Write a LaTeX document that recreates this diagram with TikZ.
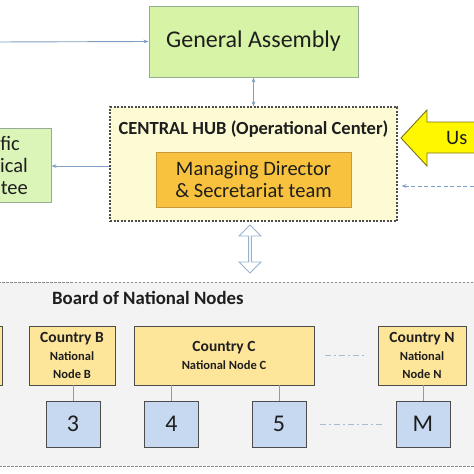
\documentclass[tikz,border=0pt]{standalone}
\usepackage{fontspec}
\setmainfont{Carlito}
\usetikzlibrary{shapes.arrows,calc,arrows.meta}

\definecolor{gaGreen}{HTML}{D7F3A6}
\definecolor{gaBorder}{HTML}{93AE93}
\definecolor{sciGreen}{HTML}{DBF4B8}
\definecolor{hubYellow}{HTML}{FDFBD4}
\definecolor{mdOrange}{HTML}{F8C23E}
\definecolor{mdBorder}{HTML}{C49A3A}
\definecolor{countryYellow}{HTML}{FDE59A}
\definecolor{numBlue}{HTML}{C6D9F0}
\definecolor{boardGray}{HTML}{F3F3F3}
\definecolor{linkBlue}{HTML}{7E9FC2}
\definecolor{usersYellow}{HTML}{FFF700}
\definecolor{textDark}{HTML}{1E1E1E}

\begin{document}
\begin{tikzpicture}[x=1pt,y=-1pt,
	box/.style={rectangle,inner sep=0pt,align=center,text=textDark},
	link/.style={draw=linkBlue,line width=0.9pt},
	country/.style={box,draw=black!70,fill=countryYellow,line width=0.9pt,minimum height=59pt,font=\bfseries\fontsize{15.5}{18}\selectfont},
	numbox/.style={box,draw=black!70,fill=numBlue,line width=0.9pt,minimum width=54pt,minimum height=46pt,font=\fontsize{24}{26}\selectfont}]
		\useasboundingbox (0,0) rectangle (474,474);
		% upper part
		\node[box,draw=gaBorder,fill=gaGreen,line width=1pt,minimum width=209pt,minimum height=71pt,font=\fontsize{24}{26}\selectfont] (ga) at (253.5,41.5) {General Assembly};
		\node[box,draw=black!70,fill=hubYellow,dash pattern=on 2pt off 1.5pt,line width=1.1pt,minimum width=287pt,minimum height=114pt] (hub) at (253.5,164) {};
		\node[box,font=\bfseries\fontsize{18.5}{20}\selectfont] (hubTitle) at (253.5,129) {CENTRAL HUB (Operational Center)};
		\node[box,draw=mdBorder,fill=mdOrange,line width=1pt,minimum width=195pt,minimum height=55pt,font=\fontsize{20.5}{22}\selectfont] (md) at (253.5,179.5) {Managing Director\\\& Secretariat team};
		\node[box,draw=gaBorder,fill=sciGreen,line width=1pt,minimum width=120pt,minimum height=74pt] (sci) at (-9,165) {};
		\node[box,align=right,anchor=east,font=\fontsize{20.5}{22}\selectfont] (sciText) at (28,165) {fic\kern8pt\\ical\\tee};
		\coordinate (gaIn) at (-5,42);
		\draw[link,-{Stealth[length=5pt]}] (gaIn) -- (ga.west);
		\draw[link,{Stealth[length=5pt]}-{Stealth[length=5pt]}] (ga.south) -- (hub.north);
		\draw[link,-{Stealth[length=5pt]}] (hub.west |- 0,166) -- (sci.east |- 0,166);
		% users arrow
		\draw[draw=olive!80!black,fill=usersYellow,line width=0.9pt] (401,138) -- (427,110) -- (427,122) -- (490,122) -- (490,153) -- (427,153) -- (427,166) -- cycle;
		\node[box,anchor=west,font=\fontsize{20.5}{22}\selectfont] (users) at (446,138) {Us};
		\coordinate (usrIn) at (480,186);
		\draw[link,dash pattern=on 4pt off 2.5pt,-{Stealth[length=5pt]}] (usrIn) -- ($(hub.east |- usrIn)+(4,0)$);
		\node[double arrow,draw=linkBlue!80,fill=white,line width=0.9pt,rotate=90,minimum height=48pt,minimum width=22pt,double arrow head extend=3pt,inner sep=0pt] (hubBoard) at (250,249) {};
		% board of national nodes
		\draw[draw=black!45,fill=boardGray,dash pattern=on 2.5pt off 1.5pt,line width=0.9pt] (-5,282) rectangle (480,466);
		\node[box,anchor=west,font=\bfseries\fontsize{18.8}{20}\selectfont] (board) at (52,298) {Board of National Nodes};
		\node[country,minimum width=70pt] (ca) at (-33,355.5) {};
		\node[country,minimum width=86pt] (cb) at (72,355.5) {Country B\\{\fontsize{12.5}{18}\selectfont National}\\{\fontsize{12.5}{18}\selectfont Node B}};
		\node[country,minimum width=180pt] (cc) at (224,355.5) {Country C\\{\fontsize{12.5}{18}\selectfont National Node C}};
		\node[country,minimum width=88pt] (cn) at (422,355.5) {Country N\\{\fontsize{12.5}{18}\selectfont National}\\{\fontsize{12.5}{18}\selectfont Node N}};
		\node[numbox] (n3) at (73,424) {3};
		\node[numbox] (n4) at (171.5,424) {4};
		\node[numbox] (n5) at (279,424) {5};
		\node[numbox] (nm) at (423,424) {M};
		\draw[link] (cb.south -| n3.north) -- (n3.north);
		\draw[link] (cc.south -| n4.north) -- (n4.north);
		\draw[link] (cc.south -| n5.north) -- (n5.north);
		\draw[link] (cn.south -| nm.north) -- (nm.north);
		\draw[linkBlue!70,dash pattern=on 6pt off 3pt on 2pt off 3pt,line width=0.8pt] ($(cc.east)+(11,0)$) -- ($(cn.west)+(-11,0)$);
		\draw[linkBlue!70,dash pattern=on 6pt off 3pt on 2pt off 3pt,line width=0.8pt] ($(n5.east)+(14,0)$) -- ($(nm.west)+(-14,0)$);
	\end{tikzpicture}
\end{document}
